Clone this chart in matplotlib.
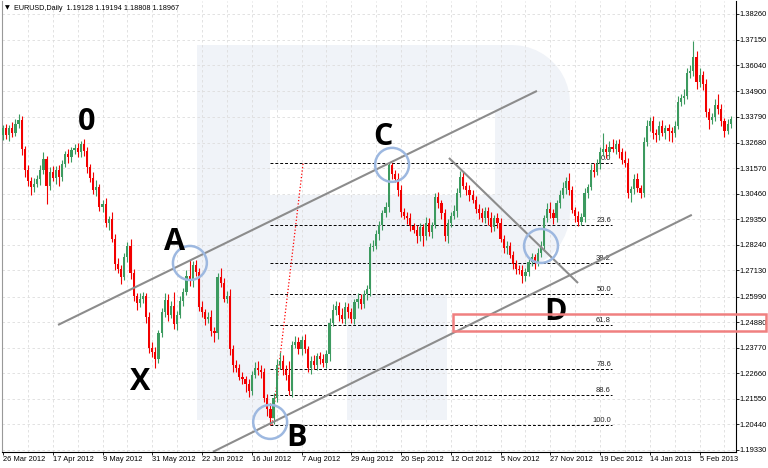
import numpy as np
import matplotlib
matplotlib.use("Agg")
import matplotlib.pyplot as plt
from matplotlib.patches import Ellipse, Rectangle, Polygon

# daily closes, EURUSD 26 Mar 2012 .. 20 Feb 2013 (one row = 16 bars)
closes = [
    1.3330, 1.3300, 1.3330, 1.3310, 1.3350, 1.3365, 1.3240, 1.3150, 1.3100, 1.3075, 1.3090, 1.3110, 1.3150, 1.3195, 1.3080, 1.3140,
    1.3115, 1.3150, 1.3120, 1.3175, 1.3220, 1.3205, 1.3235, 1.3245, 1.3225, 1.3260, 1.3230, 1.3160, 1.3115, 1.3060, 1.3075, 1.2990,
    1.3000, 1.2920, 1.2935, 1.2850, 1.2740, 1.2720, 1.2685, 1.2770, 1.2820, 1.2700, 1.2600, 1.2570, 1.2590, 1.2600, 1.2510, 1.2375,
    1.2360, 1.2330, 1.2440, 1.2530, 1.2585, 1.2520, 1.2560, 1.2480, 1.2520, 1.2580, 1.2620, 1.2690, 1.2665, 1.2735, 1.2705, 1.2555,
    1.2530, 1.2500, 1.2510, 1.2450, 1.2440, 1.2685, 1.2660, 1.2590, 1.2600, 1.2370, 1.2300, 1.2290, 1.2250, 1.2240, 1.2220, 1.2190,
    1.2260, 1.2290, 1.2280, 1.2270, 1.2160, 1.2110, 1.2070, 1.2160, 1.2300, 1.2320, 1.2280, 1.2260, 1.2190, 1.2390, 1.2400, 1.2370,
    1.2410, 1.2370, 1.2290, 1.2320, 1.2300, 1.2340, 1.2330, 1.2310, 1.2350, 1.2485, 1.2540, 1.2560, 1.2520, 1.2500, 1.2555, 1.2530,
    1.2500, 1.2575, 1.2590, 1.2565, 1.2610, 1.2630, 1.2815, 1.2820, 1.2870, 1.2910, 1.2960, 1.2990, 1.3170, 1.3130, 1.3110, 1.3060,
    1.2965, 1.2950, 1.2940, 1.2905, 1.2890, 1.2860, 1.2900, 1.2860, 1.2920, 1.2880, 1.2910, 1.3030, 1.3005, 1.2960, 1.2860, 1.2920,
    1.2950, 1.2970, 1.3050, 1.3120, 1.3080, 1.3060, 1.3040, 1.3020, 1.2980, 1.2960, 1.2940, 1.2970, 1.2940, 1.2900, 1.2940, 1.2920,
    1.2850, 1.2810, 1.2820, 1.2780, 1.2740, 1.2720, 1.2715, 1.2690, 1.2705, 1.2750, 1.2770, 1.2745, 1.2790, 1.2820, 1.2940, 1.2980,
    1.2960, 1.2940, 1.3005, 1.3040, 1.3070, 1.3100, 1.3060, 1.2975, 1.2950, 1.2925, 1.2945, 1.3050, 1.3075, 1.3150, 1.3140, 1.3175,
    1.3225, 1.3240, 1.3225, 1.3250, 1.3240, 1.3260, 1.3225, 1.3190, 1.3180, 1.3050, 1.3065, 1.3110, 1.3070, 1.3050, 1.3270, 1.3340,
    1.3360, 1.3310, 1.3300, 1.3340, 1.3310, 1.3330, 1.3320, 1.3310, 1.3340, 1.3445, 1.3460, 1.3470, 1.3570, 1.3580, 1.3640, 1.3530,
    1.3560, 1.3520, 1.3400, 1.3365, 1.3380, 1.3430, 1.3415, 1.3360, 1.3320, 1.3350, 1.3370,
]
first_open = 1.3300

# wick lengths in pips above / below the body
upper_wick = [
    15, 20, 12, 25, 18, 25, 20, 15, 22, 18, 25, 15, 20, 30, 15, 20,
    25, 15, 20, 18, 12, 20, 15, 18, 22, 15, 23, 20, 15, 25, 30, 15,
    20, 25, 15, 30, 20, 25, 15, 20, 18, 30, 20, 15, 25, 20, 15, 20,
    25, 20, 15, 18, 30, 25, 20, 60, 15, 20, 18, 25, 68, 20, 25, 20,
    25, 15, 20, 30, 18, 15, 40, 20, 25, 30, 20, 25, 15, 20, 15, 20,
    15, 25, 30, 20, 18, 15, 25, 20, 30, 40, 25, 20, 60, 15, 30, 25,
    20, 25, 15, 20, 25, 15, 20, 18, 15, 20, 25, 20, 15, 30, 20, 15,
    20, 15, 25, 20, 18, 20, 15, 25, 20, 18, 15, 20, 15, 10, 20, 25,
    25, 20, 15, 20, 15, 18, 20, 15, 25, 20, 15, 20, 25, 15, 20, 18,
    15, 25, 20, 25, 20, 15, 25, 20, 15, 20, 25, 18, 20, 25, 15, 20,
    20, 15, 20, 18, 15, 20, 15, 20, 18, 15, 20, 15, 18, 20, 15, 25,
    30, 20, 15, 20, 25, 20, 35, 20, 15, 20, 18, 20, 15, 25, 30, 20,
    25, 70, 20, 25, 35, 20, 25, 20, 40, 20, 15, 20, 25, 15, 20, 25,
    20, 25, 15, 20, 25, 15, 20, 15, 20, 25, 20, 30, 20, 25, 70, 25,
    30, 20, 25, 20, 15, 25, 50, 20, 15, 20, 15,
]
lower_wick = [
    20, 15, 25, 18, 15, 20, 25, 30, 20, 35, 20, 15, 25, 20, 80, 20,
    15, 25, 40, 20, 15, 25, 20, 15, 20, 18, 20, 25, 20, 15, 25, 20,
    25, 20, 30, 15, 25, 20, 30, 15, 20, 25, 20, 30, 15, 20, 25, 20,
    25, 40, 20, 15, 20, 25, 15, 20, 25, 15, 20, 15, 20, 25, 15, 20,
    20, 25, 15, 20, 40, 25, 20, 15, 20, 25, 30, 20, 15, 20, 35, 25,
    20, 15, 20, 25, 20, 30, 28, 25, 20, 15, 20, 25, 20, 25, 15, 20,
    25, 15, 20, 25, 15, 20, 25, 15, 20, 30, 15, 20, 25, 15, 20, 25,
    15, 20, 25, 20, 15, 25, 30, 20, 15, 25, 20, 15, 25, 20, 15, 25,
    20, 15, 25, 20, 15, 30, 20, 40, 15, 20, 25, 15, 20, 25, 20, 30,
    20, 15, 25, 20, 15, 20, 25, 15, 20, 25, 15, 20, 30, 20, 15, 25,
    15, 20, 25, 15, 20, 25, 20, 30, 25, 15, 20, 25, 15, 20, 25, 15,
    20, 25, 15, 20, 15, 25, 20, 15, 25, 20, 15, 20, 25, 15, 20, 15,
    20, 15, 25, 20, 15, 20, 25, 15, 20, 25, 40, 20, 15, 25, 20, 15,
    20, 25, 30, 20, 15, 25, 45, 40, 20, 15, 20, 25, 15, 20, 25, 30,
    20, 25, 20, 40, 15, 20, 25, 20, 30, 15, 20,
]

price_ticks = [1.38260, 1.37150, 1.36040, 1.34900, 1.33790, 1.32680, 1.31570, 1.30460, 1.29350,
               1.28240, 1.27130, 1.25990, 1.24880, 1.23770, 1.22660, 1.21550, 1.20440, 1.19330]
date_labels = ["26 Mar 2012", "17 Apr 2012", "9 May 2012", "31 May 2012", "22 Jun 2012",
               "16 Jul 2012", "7 Aug 2012", "29 Aug 2012", "20 Sep 2012", "12 Oct 2012",
               "5 Nov 2012", "27 Nov 2012", "19 Dec 2012", "14 Jan 2013", "5 Feb 2013"]
label_step = 16

fib_levels = [0.0, 23.6, 38.2, 50.0, 61.8, 78.6, 88.6, 100.0]
fib_top, fib_bottom = 1.3179, 1.2042      # C high .. B low
fib_start, fib_end = 86, 195.8

# pattern points: name, bar, price
pattern_letters = [("0", 27, 1.3357), ("A", 55, 1.2836), ("X", 44, 1.2229),
                   ("C", 122.2, 1.3292), ("B", 94.5, 1.1986), ("D", 177.5, 1.2533)]
circle_marks = [(60.1, 1.2745), (125.1, 1.3171), (85.9, 1.2055), (173.0, 1.2819)]
trend_lines = [((17.7, 1.2476), (171.7, 1.3492)),
               ((67.5, 1.1925), (221.5, 1.2954)),
               ((143.4, 1.3201), (184.9, 1.2658))]
header = "EURUSD,Daily  1.19128 1.19194 1.18808 1.18967"

SMALL = ["Liberation Sans", "DejaVu Sans"]

# ---------------------------------------------------------------
closes = np.array(closes)
opens = np.r_[first_open, closes[:-1]]
highs = np.maximum(opens, closes) + np.array(upper_wick) * 1e-4
lows = np.minimum(opens, closes) - np.array(lower_wick) * 1e-4
idx = np.arange(len(closes))

W, H = 768, 468
fig = plt.figure(figsize=(W / 100, H / 100), dpi=100)
ax = fig.add_axes([2 / W, 16 / H, 734 / W, 451 / H])
ax.set_xlim(-0.32, 235.7)
ax.set_ylim(1.19243, 1.38824)


def px(x, y):
    # reference pixel -> axes fraction
    return (x - 2) / 734, (452 - y) / 451


def arc(cx, cy, r, a0, a1, n=12):
    t = np.radians(np.linspace(a0, a1, n))
    return [px(cx + r * np.cos(a), cy - r * np.sin(a)) for a in t]


# watermark logo (big faint "R")
wm = "#f0f3f8"
ax.add_patch(Rectangle(px(197, 420), 73 / 734, 375 / 451, transform=ax.transAxes,
                       color=wm, zorder=0, lw=0))
bowl = ([px(197, 45)] + arc(512, 103, 58, 90, 0) + arc(512, 212, 58, 0, -90)
        + [px(270, 270), px(270, 195), px(495, 195), px(495, 110), px(270, 110), px(270, 45)])
ax.add_patch(Polygon(bowl, closed=True, transform=ax.transAxes, color=wm, zorder=0, lw=0))
ax.add_patch(Rectangle(px(347, 420), 100 / 734, 125 / 451, transform=ax.transAxes,
                       color=wm, zorder=0, lw=0))

# grid
for p in price_ticks:
    ax.axhline(p, color="#dddddd", lw=0.6, ls=(0, (3, 3)), zorder=1)
for i in range(8, len(closes), 8):
    ax.axvline(i, color="#dddddd", lw=0.6, ls=(0, (3, 3)), zorder=1)

# fibonacci grid
rng = fib_top - fib_bottom
for lv in fib_levels:
    y = fib_top - lv / 100 * rng
    ax.hlines(y, fib_start, fib_end, colors="black", lw=0.7, ls=(0, (3, 2)), zorder=2)
    ax.text(fib_end - 0.3, y + 0.0003, f"{lv:.1f}", fontsize=5.5, ha="right", va="bottom",
            color="#222222", family=SMALL, zorder=2)
ax.plot([86.5, 96.5], [fib_bottom, fib_top], color="red", lw=0.9, ls=":", zorder=2)

# candles
up = closes >= opens
col = np.where(up, "#3c9a5f", "#f20000")
ax.vlines(idx, lows, highs, colors=col, lw=0.8, zorder=3)
body = np.maximum(np.abs(closes - opens), 0.0003)
ax.bar(idx, body, bottom=np.minimum(opens, closes), width=0.7, color=col, lw=0, zorder=3)

# drawings
for (x0, y0), (x1, y1) in trend_lines:
    ax.plot([x0, x1], [y0, y1], color="#8c8c8c", lw=1.5, zorder=4, solid_capstyle="butt")
for cx, cy in circle_marks:
    ax.add_patch(Ellipse((cx, cy), 10.9, 0.01476, fill=False, ec="#9db8e0", lw=1.8, zorder=5))
for name, bx, by in pattern_letters:
    ax.text(bx, by, name, fontsize=22, fontweight="bold", ha="center", va="center",
            family=["Open Sans", "DejaVu Sans"], color="black", zorder=6)

# axes look
ax.set_yticks(price_ticks)
ax.set_yticklabels([f"{p:.5f}" for p in price_ticks])
ax.yaxis.tick_right()
ax.set_xticks(idx[::label_step][:len(date_labels)])
ax.set_xticklabels(date_labels)
for lab in ax.get_xticklabels():
    lab.set_horizontalalignment("left")
ax.tick_params(axis="both", length=2, width=0.6, labelsize=5.4, pad=0.8, color="black")
for lab in ax.get_xticklabels() + ax.get_yticklabels():
    lab.set_family(SMALL)
ax.spines["top"].set_visible(False)
ax.spines["left"].set_color("#999999")
ax.spines["right"].set_linewidth(0.8)
ax.spines["bottom"].set_linewidth(0.8)

# header
fig.text(5 / W, 1 - 8 / H, "\u25bc", fontsize=4.5, va="center", ha="left")
fig.text(14 / W, 1 - 8 / H, header, fontsize=5.2, va="center", ha="left", family=SMALL)

# highlight box around the 61.8 level price
fig.patches.append(Rectangle((453 / W, 1 - 331 / H), 313 / W, 17 / H, transform=fig.transFigure,
                             fill=False, ec="#f08080", lw=1.8, figure=fig, zorder=10))

fig.savefig("out.png", dpi=100)
